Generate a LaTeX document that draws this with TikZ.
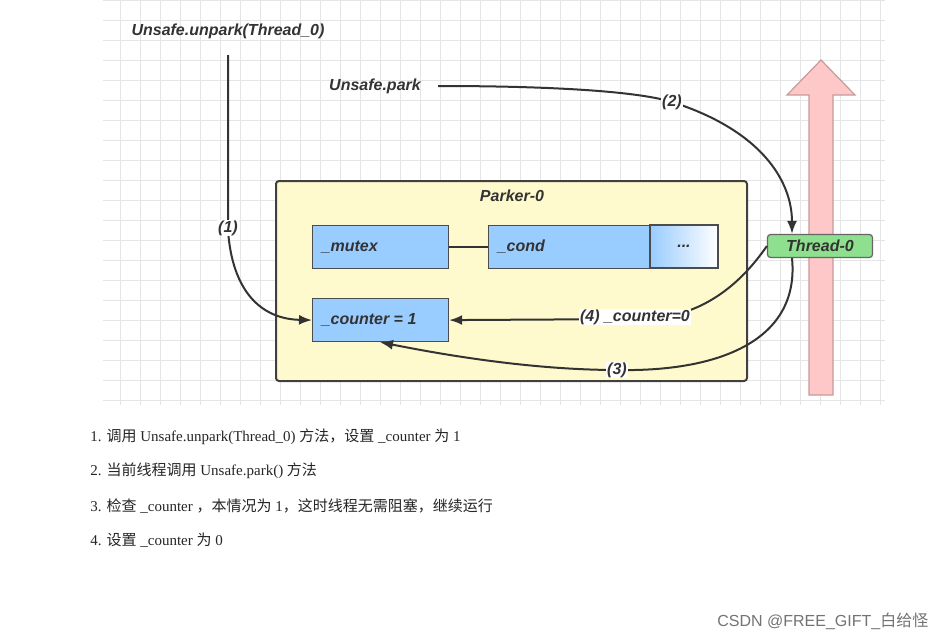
\documentclass[tikz,border=0pt]{standalone}
\usepackage{fontspec}
\setmainfont{Liberation Serif}
\newfontfamily\diag{Liberation Sans}
\newfontfamily\cjk{Noto Sans CJK SC}
\usetikzlibrary{positioning,arrows.meta}
\definecolor{boxblue}{HTML}{99CCFF}
\definecolor{parkeryel}{HTML}{FFFACD}
\definecolor{threadgrn}{HTML}{8EE08E}
\definecolor{arrowpink}{HTML}{FFC8C8}
\tikzset{every picture/.style={line width=0.75pt}}
\tikzset{
  lbl/.style={font=\diag\bfseries\itshape\fontsize{16}{18}\selectfont, text=black!80},
  field/.style={draw=black!70, line width=1.2pt, fill=boxblue, minimum height=43pt, inner sep=0pt, anchor=north west},
  flow/.style={draw=black!80, line width=2pt, -{Latex[length=13pt,width=10pt]}},
  tag/.style={lbl, fill=white, inner sep=1pt},
}
\begin{document}
\begin{tikzpicture}[x=1pt,y=1pt,yscale=-1]
\useasboundingbox (0,0) rectangle (946,640);
\fill[white] (0,0) rectangle (946,640);

%grid
\draw[black!10, line width=0.7pt, step=20] (103,0) grid (885,405);

%Parker box
\draw[fill=parkeryel, draw=black!75, line width=2pt, rounded corners=3pt] (276,181) rectangle (747,381);
\node[lbl] (parker) at (512,196) {Parker-0};

%fields
\node[field, minimum width=136pt] (mutex) at (312,225) {};
\node[lbl, anchor=west] at (mutex.west) {\hspace*{6pt}\_mutex};
\node[field, minimum width=162pt] (cond) at (488,225) {};
\node[lbl, anchor=west] at (cond.west) {\hspace*{6pt}\_cond};
\shade[left color=boxblue, right color=white, draw=black!70, line width=1.2pt] (650,225) rectangle (718,268);
\node[lbl] (dots) at (684,246) {...};
\draw[black!80, line width=2pt] (mutex) -- (cond);
\node[field, minimum width=136pt] (counter) at (312,298) {};
\node[lbl, anchor=west] at (counter.west) {\hspace*{6pt}\_counter = 1};

%big arrow
\filldraw[fill=arrowpink, draw=red!45!black!40, line width=1.2pt] (809,395) -- (809,95) -- (787,95) -- (821,60) -- (855,95) -- (833,95) -- (833,395) -- cycle;

%thread
\node[lbl, draw=black!60, line width=1.2pt, fill=threadgrn, rounded corners=3pt, minimum width=105pt, minimum height=23pt, inner sep=0pt] (thread) at (820,246) {Thread-0};

%calls
\node[lbl] (unpark) at (228,31) {Unsafe.unpark(Thread\_0)};
\node[lbl] (park) at (375,86) {Unsafe.park};
\coordinate (u0) at (228,55);
\coordinate (p0) at (438,86);

\draw[flow] (u0) -- (228,230) .. controls (232,290) and (260,319) .. (counter.west);
\node[tag] at (228,228) {(1)};
\draw[flow] (p0) .. controls (560,86) and (640,92) .. (672,102) .. controls (760,130) and (792,180) .. (thread.north -| 792,0);
\node[tag] at (672,102) {(2)};
\draw[flow] (thread.west) .. controls (740,285) and (700,319) .. (640,319) -- (counter.east);
\node[tag] at (635,317) {(4) \_counter=0};
\draw[flow] (thread.south -| 792,0) .. controls (800,340) and (720,372) .. (617,370) .. controls (520,370) and (420,350) .. (counter.south -| 380,0);
\node[tag] at (617,370) {(3)};

%notes
\begin{scope}[every node/.style={anchor=west, font=\fontsize{15}{18}\selectfont, inner sep=0pt, text=black!85}]
\node (n1) at (90,437) {1. {\cjk 调用} Unsafe.unpark(Thread\_0) {\cjk 方法，设置} \_counter {\cjk 为} 1};
\node (n2) at (90,471) {2. {\cjk 当前线程调用} Unsafe.park() {\cjk 方法}};
\node (n3) at (90,506) {3. {\cjk 检查} \_counter {\cjk ，本情况为} 1{\cjk ，这时线程无需阻塞，继续运行}};
\node (n4) at (90,540) {4. {\cjk 设置} \_counter {\cjk 为} 0};
\end{scope}
\node[anchor=east, text=black!55, font=\diag\fontsize{16}{18}\selectfont] (mark) at (932,621) {CSDN @FREE\_GIFT\_{\cjk 白给怪}};
\end{tikzpicture}
\end{document}
